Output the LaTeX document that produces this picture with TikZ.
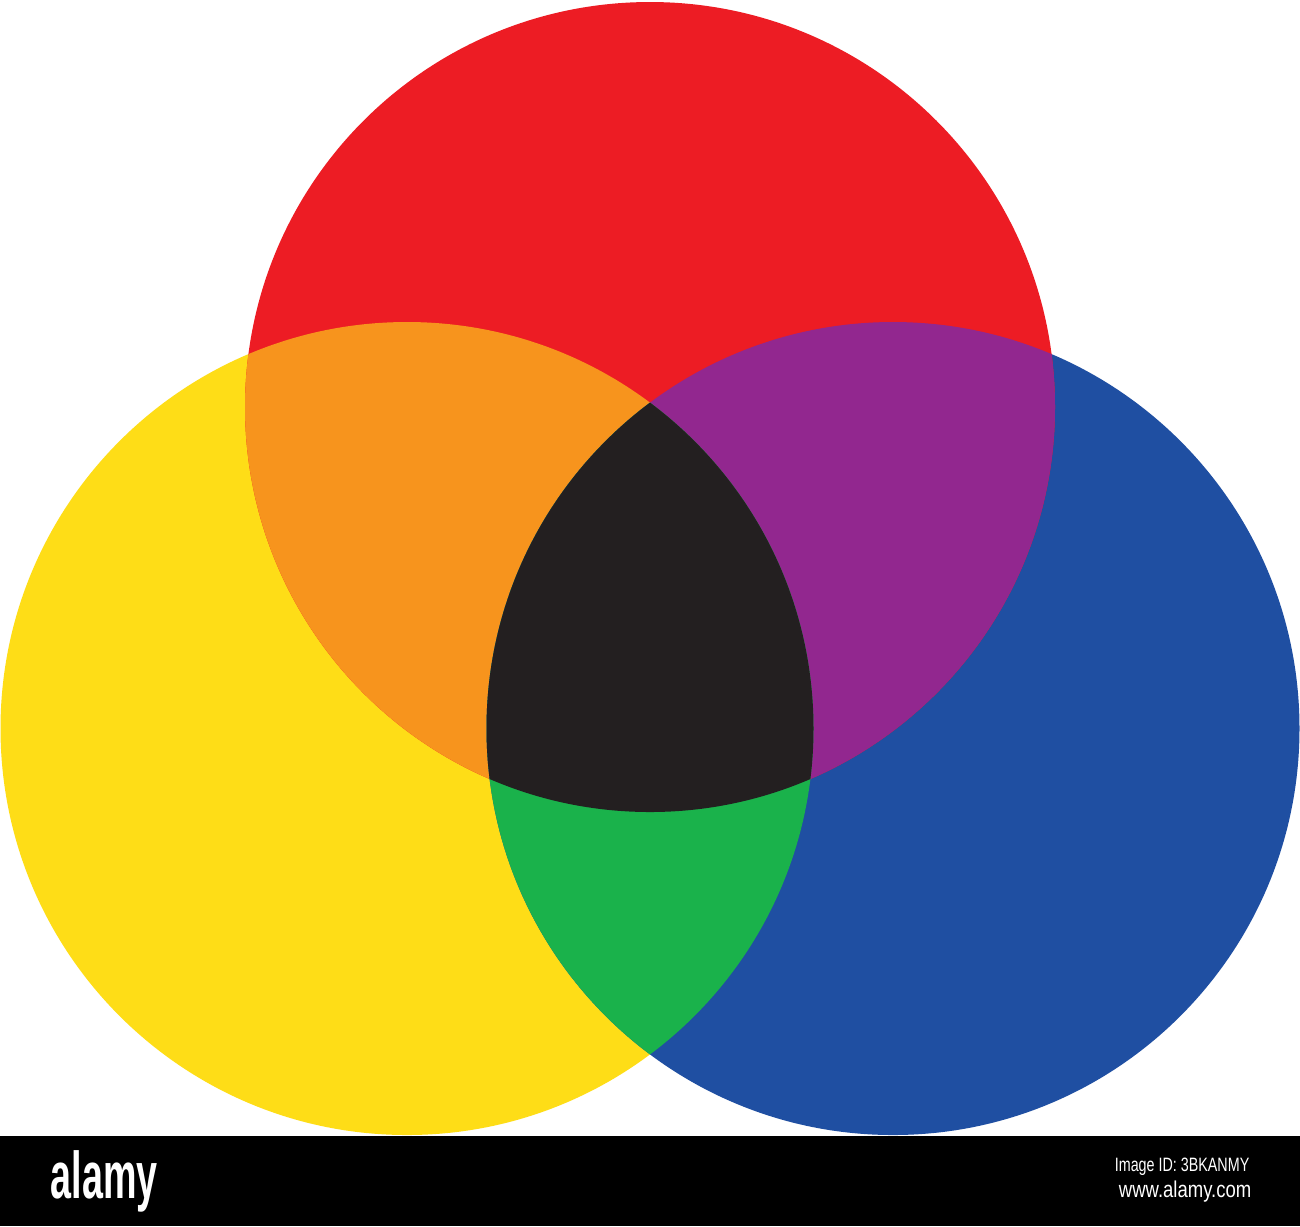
\documentclass[tikz,border=0pt]{standalone}
\usepackage{fontspec}
\setmainfont{Liberation Sans}
\definecolor{cred}{HTML}{ED1C24}
\definecolor{cyellow}{HTML}{FEDD17}
\definecolor{cblue}{HTML}{1F4FA2}
\definecolor{corange}{HTML}{F7941D}
\definecolor{cpurple}{HTML}{92278F}
\definecolor{cgreen}{HTML}{1AB24B}
\definecolor{cblack}{HTML}{231F20}
\begin{document}
\begin{tikzpicture}[x=0.01cm,y=-0.01cm,
  bartext/.style={text=white,inner sep=0pt}]
\useasboundingbox (0,0) rectangle (1300,1226);
\fill[white] (0,0) rectangle (1300,1226);
\def\Ycirc{(407,728.5) circle[radius=406.5]}
\def\Bcirc{(893,728.5) circle[radius=406.5]}
\def\Rcirc{(650,407) circle[radius=405]}
\fill[cyellow] \Ycirc;
\fill[cblue] \Bcirc;
\fill[cred] \Rcirc;
\begin{scope}\clip \Rcirc; \fill[corange] \Ycirc; \end{scope}
\begin{scope}\clip \Rcirc; \fill[cpurple] \Bcirc; \end{scope}
\begin{scope}\clip \Ycirc; \fill[cgreen] \Bcirc; \end{scope}
\begin{scope}\clip \Rcirc; \clip \Ycirc; \fill[cblack] \Bcirc; \end{scope}
% bottom bar
\fill[black] (0,1136) rectangle (1300,1226);
\node[bartext,anchor=west,font=\bfseries\fontsize{18.8}{18.8}\selectfont] (logo) at (50,1181) {\scalebox{0.57}[1]{alamy}};
\node[bartext,anchor=east,font=\fontsize{5.5}{5.5}\selectfont] (imgid) at (1250,1167) {\scalebox{0.74}[1]{Image ID: 3BKANMY}};
\node[bartext,anchor=east,font=\fontsize{6.5}{6.5}\selectfont] (url) at (1252,1192) {\scalebox{0.81}[1]{www.alamy.com}};
\end{tikzpicture}
\end{document}
